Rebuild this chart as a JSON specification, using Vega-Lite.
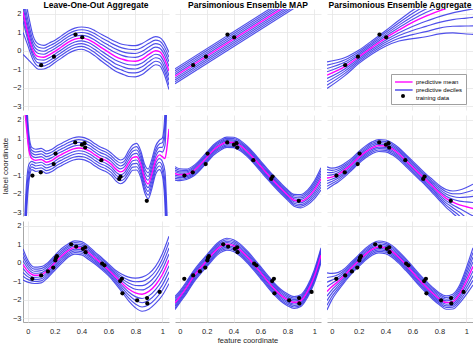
{
"$schema":"https://vega.github.io/schema/vega-lite/v6.json",
"padding":{"left":1,"top":0,"right":0,"bottom":0},
"config":{"font":"Liberation Sans","view":{"stroke":null},
"axis":{"grid":true,"gridColor":"#e6e6e6","gridWidth":0.8,"domainColor":"#909090","domainWidth":0.8,"ticks":false,"tickSize":0,"labelOverlap":false,"labelFontSize":7.5,"labelColor":"#262626","labelPadding":2,"title":null,"minExtent":0}},
"data":{"values":[
{"t":"c","r":1,"c":1,"x":-0.035,"m":2.1,"d1":-0.2,"d2":1,"d3":1.6,"d4":1.9,"d6":2.4,"d7":2.7,"d8":3,"d9":3.3},
{"t":"c","r":1,"c":1,"x":0,"m":0.95,"d1":-0.45,"d2":0.3,"d3":0.6,"d4":0.8,"d6":1.15,"d7":1.4,"d8":1.7,"d9":2.1},
{"t":"c","r":1,"c":1,"x":0.04,"m":0,"d1":-0.75,"d2":-0.5,"d3":-0.3,"d4":-0.15,"d6":0.17,"d7":0.35,"d8":0.55,"d9":0.8},
{"t":"c","r":1,"c":1,"x":0.08,"m":-0.32,"d1":-1,"d2":-0.83,"d3":-0.66,"d4":-0.49,"d6":-0.15,"d7":0.02,"d8":0.19,"d9":0.36},
{"t":"c","r":1,"c":1,"x":0.12,"m":-0.35,"d1":-0.99,"d2":-0.83,"d3":-0.67,"d4":-0.51,"d6":-0.19,"d7":-0.03,"d8":0.13,"d9":0.29},
{"t":"c","r":1,"c":1,"x":0.16,"m":-0.22,"d1":-0.86,"d2":-0.7,"d3":-0.54,"d4":-0.38,"d6":-0.06,"d7":0.1,"d8":0.26,"d9":0.42},
{"t":"c","r":1,"c":1,"x":0.2,"m":-0.05,"d1":-0.65,"d2":-0.5,"d3":-0.35,"d4":-0.2,"d6":0.1,"d7":0.25,"d8":0.4,"d9":0.55},
{"t":"c","r":1,"c":1,"x":0.25,"m":0.2,"d1":-0.4,"d2":-0.25,"d3":-0.1,"d4":0.05,"d6":0.35,"d7":0.5,"d8":0.65,"d9":0.8},
{"t":"c","r":1,"c":1,"x":0.3,"m":0.45,"d1":-0.15,"d2":0,"d3":0.15,"d4":0.3,"d6":0.6,"d7":0.75,"d8":0.9,"d9":1.05},
{"t":"c","r":1,"c":1,"x":0.35,"m":0.62,"d1":0.02,"d2":0.17,"d3":0.32,"d4":0.47,"d6":0.77,"d7":0.92,"d8":1.07,"d9":1.22},
{"t":"c","r":1,"c":1,"x":0.4,"m":0.68,"d1":0.08,"d2":0.23,"d3":0.38,"d4":0.53,"d6":0.83,"d7":0.98,"d8":1.13,"d9":1.28},
{"t":"c","r":1,"c":1,"x":0.45,"m":0.6,"d1":-0.04,"d2":0.12,"d3":0.28,"d4":0.44,"d6":0.76,"d7":0.92,"d8":1.08,"d9":1.24},
{"t":"c","r":1,"c":1,"x":0.5,"m":0.4,"d1":-0.28,"d2":-0.11,"d3":0.06,"d4":0.23,"d6":0.57,"d7":0.74,"d8":0.91,"d9":1.08},
{"t":"c","r":1,"c":1,"x":0.55,"m":0.15,"d1":-0.57,"d2":-0.39,"d3":-0.21,"d4":-0.03,"d6":0.33,"d7":0.51,"d8":0.69,"d9":0.87},
{"t":"c","r":1,"c":1,"x":0.6,"m":-0.08,"d1":-0.84,"d2":-0.65,"d3":-0.46,"d4":-0.27,"d6":0.11,"d7":0.3,"d8":0.49,"d9":0.68},
{"t":"c","r":1,"c":1,"x":0.65,"m":-0.3,"d1":-1.1,"d2":-0.9,"d3":-0.7,"d4":-0.5,"d6":-0.1,"d7":0.1,"d8":0.3,"d9":0.5},
{"t":"c","r":1,"c":1,"x":0.7,"m":-0.45,"d1":-1.25,"d2":-1.05,"d3":-0.85,"d4":-0.65,"d6":-0.25,"d7":-0.05,"d8":0.15,"d9":0.35},
{"t":"c","r":1,"c":1,"x":0.75,"m":-0.55,"d1":-1.39,"d2":-1.18,"d3":-0.97,"d4":-0.76,"d6":-0.34,"d7":-0.13,"d8":0.08,"d9":0.29},
{"t":"c","r":1,"c":1,"x":0.8,"m":-0.57,"d1":-1.41,"d2":-1.2,"d3":-0.99,"d4":-0.78,"d6":-0.36,"d7":-0.15,"d8":0.06,"d9":0.27},
{"t":"c","r":1,"c":1,"x":0.85,"m":-0.45,"d1":-1.29,"d2":-1.08,"d3":-0.87,"d4":-0.66,"d6":-0.24,"d7":-0.03,"d8":0.18,"d9":0.39},
{"t":"c","r":1,"c":1,"x":0.9,"m":-0.2,"d1":-1,"d2":-0.8,"d3":-0.6,"d4":-0.4,"d6":0,"d7":0.2,"d8":0.4,"d9":0.6},
{"t":"c","r":1,"c":1,"x":0.95,"m":0,"d1":-0.76,"d2":-0.57,"d3":-0.38,"d4":-0.19,"d6":0.19,"d7":0.38,"d8":0.57,"d9":0.76},
{"t":"c","r":1,"c":1,"x":0.98,"m":-0.05,"d1":-0.81,"d2":-0.62,"d3":-0.43,"d4":-0.24,"d6":0.14,"d7":0.33,"d8":0.52,"d9":0.71},
{"t":"c","r":1,"c":1,"x":1.01,"m":-0.35,"d1":-1.19,"d2":-0.98,"d3":-0.77,"d4":-0.56,"d6":-0.14,"d7":0.07,"d8":0.28,"d9":0.49},
{"t":"c","r":1,"c":1,"x":1.05,"m":-1.1,"d1":-2.1,"d2":-1.85,"d3":-1.6,"d4":-1.35,"d6":-0.85,"d7":-0.6,"d8":-0.35,"d9":-0.1},

{"t":"c","r":1,"c":2,"x":-0.035,"m":-1.38,"d1":-1.78,"d2":-1.68,"d3":-1.58,"d4":-1.48,"d6":-1.28,"d7":-1.18,"d8":-1.08,"d9":-0.98},
{"t":"c","r":1,"c":2,"x":1.05,"m":3.61,"d1":3.21,"d2":3.31,"d3":3.41,"d4":3.51,"d6":3.71,"d7":3.81,"d8":3.91,"d9":4.01},

{"t":"c","r":1,"c":3,"x":-0.035,"m":-1.32,"d1":-2.04,"d2":-1.86,"d3":-1.68,"d4":-1.5,"d6":-1.14,"d7":-0.96,"d8":-0.78,"d9":-0.6},
{"t":"c","r":1,"c":3,"x":0.1,"m":-0.85,"d1":-1.33,"d2":-1.21,"d3":-1.09,"d4":-0.97,"d6":-0.73,"d7":-0.61,"d8":-0.49,"d9":-0.37},
{"t":"c","r":1,"c":3,"x":0.2,"m":-0.34,"d1":-0.7,"d2":-0.61,"d3":-0.52,"d4":-0.43,"d6":-0.25,"d7":-0.16,"d8":-0.07,"d9":0.02},
{"t":"c","r":1,"c":3,"x":0.3,"m":0.18,"d1":-0.18,"d2":-0.09,"d3":0,"d4":0.09,"d6":0.27,"d7":0.36,"d8":0.45,"d9":0.54},
{"t":"c","r":1,"c":3,"x":0.4,"m":0.68,"d1":0.24,"d2":0.35,"d3":0.46,"d4":0.57,"d6":0.78,"d7":0.88,"d8":0.98,"d9":1.08},
{"t":"c","r":1,"c":3,"x":0.5,"m":1.12,"d1":0.52,"d2":0.67,"d3":0.82,"d4":0.97,"d6":1.25,"d7":1.38,"d8":1.51,"d9":1.64},
{"t":"c","r":1,"c":3,"x":0.6,"m":1.53,"d1":0.65,"d2":0.87,"d3":1.09,"d4":1.31,"d6":1.69,"d7":1.85,"d8":2.01,"d9":2.17},
{"t":"c","r":1,"c":3,"x":0.7,"m":1.87,"d1":0.75,"d2":1.03,"d3":1.31,"d4":1.59,"d6":2.06,"d7":2.25,"d8":2.44,"d9":2.63},
{"t":"c","r":1,"c":3,"x":0.8,"m":2.15,"d1":0.91,"d2":1.22,"d3":1.53,"d4":1.84,"d6":2.37,"d7":2.59,"d8":2.81,"d9":3.03},
{"t":"c","r":1,"c":3,"x":0.9,"m":2.4,"d1":0.96,"d2":1.32,"d3":1.68,"d4":2.04,"d6":2.65,"d7":2.9,"d8":3.15,"d9":3.4},
{"t":"c","r":1,"c":3,"x":1,"m":2.62,"d1":0.9,"d2":1.33,"d3":1.76,"d4":2.19,"d6":2.92,"d7":3.22,"d8":3.52,"d9":3.82},
{"t":"c","r":1,"c":3,"x":1.05,"m":2.72,"d1":0.88,"d2":1.34,"d3":1.8,"d4":2.26,"d6":3.05,"d7":3.38,"d8":3.71,"d9":4.04},

{"t":"c","r":2,"c":1,"x":-0.035,"m":3.5,"d1":-9,"d2":-8,"d3":-7,"d4":-6,"d6":5,"d7":6,"d8":7,"d9":8},
{"t":"c","r":2,"c":1,"x":-0.012,"m":1.8,"d1":-3.6,"d2":-3,"d3":-2.4,"d4":-1.8,"d6":2.3,"d7":2.7,"d8":3.1,"d9":3.5},
{"t":"c","r":2,"c":1,"x":0.01,"m":0.3,"d1":-1.3,"d2":-1,"d3":-0.7,"d4":-0.4,"d6":0.4,"d7":0.6,"d8":0.85,"d9":1.15},
{"t":"c","r":2,"c":1,"x":0.03,"m":-0.1,"d1":-0.7,"d2":-0.55,"d3":-0.4,"d4":-0.25,"d6":0.05,"d7":0.2,"d8":0.35,"d9":0.5},
{"t":"c","r":2,"c":1,"x":0.06,"m":-0.2,"d1":-0.8,"d2":-0.65,"d3":-0.5,"d4":-0.35,"d6":-0.05,"d7":0.1,"d8":0.25,"d9":0.4},
{"t":"c","r":2,"c":1,"x":0.1,"m":-0.15,"d1":-0.75,"d2":-0.6,"d3":-0.45,"d4":-0.3,"d6":0,"d7":0.15,"d8":0.3,"d9":0.45},
{"t":"c","r":2,"c":1,"x":0.14,"m":-0.3,"d1":-0.9,"d2":-0.75,"d3":-0.6,"d4":-0.45,"d6":-0.15,"d7":0,"d8":0.15,"d9":0.3},
{"t":"c","r":2,"c":1,"x":0.18,"m":-0.2,"d1":-0.8,"d2":-0.65,"d3":-0.5,"d4":-0.35,"d6":-0.05,"d7":0.1,"d8":0.25,"d9":0.4},
{"t":"c","r":2,"c":1,"x":0.22,"m":0,"d1":-0.6,"d2":-0.45,"d3":-0.3,"d4":-0.15,"d6":0.15,"d7":0.3,"d8":0.45,"d9":0.6},
{"t":"c","r":2,"c":1,"x":0.26,"m":0.15,"d1":-0.45,"d2":-0.3,"d3":-0.15,"d4":0,"d6":0.3,"d7":0.45,"d8":0.6,"d9":0.75},
{"t":"c","r":2,"c":1,"x":0.3,"m":0.3,"d1":-0.3,"d2":-0.15,"d3":0,"d4":0.15,"d6":0.45,"d7":0.6,"d8":0.75,"d9":0.9},
{"t":"c","r":2,"c":1,"x":0.34,"m":0.42,"d1":-0.18,"d2":-0.03,"d3":0.12,"d4":0.27,"d6":0.57,"d7":0.72,"d8":0.87,"d9":1.02},
{"t":"c","r":2,"c":1,"x":0.38,"m":0.47,"d1":-0.13,"d2":0.02,"d3":0.17,"d4":0.32,"d6":0.62,"d7":0.77,"d8":0.92,"d9":1.07},
{"t":"c","r":2,"c":1,"x":0.42,"m":0.43,"d1":-0.17,"d2":-0.02,"d3":0.13,"d4":0.28,"d6":0.58,"d7":0.73,"d8":0.88,"d9":1.03},
{"t":"c","r":2,"c":1,"x":0.46,"m":0.3,"d1":-0.3,"d2":-0.15,"d3":0,"d4":0.15,"d6":0.45,"d7":0.6,"d8":0.75,"d9":0.9},
{"t":"c","r":2,"c":1,"x":0.5,"m":0.1,"d1":-0.5,"d2":-0.35,"d3":-0.2,"d4":-0.05,"d6":0.25,"d7":0.4,"d8":0.55,"d9":0.7},
{"t":"c","r":2,"c":1,"x":0.54,"m":-0.08,"d1":-0.68,"d2":-0.53,"d3":-0.38,"d4":-0.23,"d6":0.07,"d7":0.22,"d8":0.37,"d9":0.52},
{"t":"c","r":2,"c":1,"x":0.58,"m":-0.2,"d1":-0.8,"d2":-0.65,"d3":-0.5,"d4":-0.35,"d6":-0.05,"d7":0.1,"d8":0.25,"d9":0.4},
{"t":"c","r":2,"c":1,"x":0.62,"m":-0.4,"d1":-1,"d2":-0.85,"d3":-0.7,"d4":-0.55,"d6":-0.25,"d7":-0.1,"d8":0.05,"d9":0.2},
{"t":"c","r":2,"c":1,"x":0.66,"m":-0.7,"d1":-1.34,"d2":-1.18,"d3":-1.02,"d4":-0.86,"d6":-0.54,"d7":-0.38,"d8":-0.22,"d9":-0.06},
{"t":"c","r":2,"c":1,"x":0.69,"m":-0.82,"d1":-1.46,"d2":-1.3,"d3":-1.14,"d4":-0.98,"d6":-0.66,"d7":-0.5,"d8":-0.34,"d9":-0.18},
{"t":"c","r":2,"c":1,"x":0.72,"m":-0.7,"d1":-1.34,"d2":-1.18,"d3":-1.02,"d4":-0.86,"d6":-0.54,"d7":-0.38,"d8":-0.22,"d9":-0.06},
{"t":"c","r":2,"c":1,"x":0.75,"m":-0.35,"d1":-1.03,"d2":-0.86,"d3":-0.69,"d4":-0.52,"d6":-0.18,"d7":-0.01,"d8":0.16,"d9":0.33},
{"t":"c","r":2,"c":1,"x":0.78,"m":-0.05,"d1":-0.73,"d2":-0.56,"d3":-0.39,"d4":-0.22,"d6":0.12,"d7":0.29,"d8":0.46,"d9":0.63},
{"t":"c","r":2,"c":1,"x":0.81,"m":0,"d1":-0.72,"d2":-0.54,"d3":-0.36,"d4":-0.18,"d6":0.18,"d7":0.36,"d8":0.54,"d9":0.72},
{"t":"c","r":2,"c":1,"x":0.84,"m":-0.4,"d1":-1.12,"d2":-0.94,"d3":-0.76,"d4":-0.58,"d6":-0.22,"d7":-0.04,"d8":0.14,"d9":0.32},
{"t":"c","r":2,"c":1,"x":0.87,"m":-1.2,"d1":-1.96,"d2":-1.77,"d3":-1.58,"d4":-1.39,"d6":-1.01,"d7":-0.82,"d8":-0.63,"d9":-0.44},
{"t":"c","r":2,"c":1,"x":0.895,"m":-1.47,"d1":-2.27,"d2":-2.07,"d3":-1.87,"d4":-1.67,"d6":-1.27,"d7":-1.07,"d8":-0.87,"d9":-0.67},
{"t":"c","r":2,"c":1,"x":0.92,"m":-1,"d1":-1.8,"d2":-1.6,"d3":-1.4,"d4":-1.2,"d6":-0.8,"d7":-0.6,"d8":-0.4,"d9":-0.2},
{"t":"c","r":2,"c":1,"x":0.95,"m":-0.2,"d1":-0.96,"d2":-0.77,"d3":-0.58,"d4":-0.39,"d6":-0.01,"d7":0.18,"d8":0.37,"d9":0.56},
{"t":"c","r":2,"c":1,"x":0.98,"m":0.1,"d1":-0.7,"d2":-0.5,"d3":-0.3,"d4":-0.1,"d6":0.3,"d7":0.5,"d8":0.7,"d9":0.9},
{"t":"c","r":2,"c":1,"x":1,"m":0,"d1":-1,"d2":-0.75,"d3":-0.5,"d4":-0.25,"d6":0.25,"d7":0.5,"d8":0.75,"d9":1},
{"t":"c","r":2,"c":1,"x":1.02,"m":-0.1,"d1":-2.6,"d2":-2,"d3":-1.4,"d4":-0.8,"d6":0.6,"d7":1.2,"d8":1.8,"d9":2.4},
{"t":"c","r":2,"c":1,"x":1.035,"m":0.5,"d1":-6,"d2":-5,"d3":-4,"d4":-3,"d6":3,"d7":4,"d8":5,"d9":6},
{"t":"c","r":2,"c":1,"x":1.05,"m":1.5,"d1":-9,"d2":-8,"d3":-7,"d4":-6,"d6":6,"d7":7,"d8":8,"d9":9},

{"t":"c","r":2,"c":2,"x":-0.035,"m":-0.9,"d1":-1.26,"d2":-1.17,"d3":-1.08,"d4":-0.99,"d6":-0.81,"d7":-0.72,"d8":-0.63,"d9":-0.54},
{"t":"c","r":2,"c":2,"x":0,"m":-0.97,"d1":-1.29,"d2":-1.21,"d3":-1.13,"d4":-1.05,"d6":-0.89,"d7":-0.81,"d8":-0.73,"d9":-0.65},
{"t":"c","r":2,"c":2,"x":0.05,"m":-0.95,"d1":-1.23,"d2":-1.16,"d3":-1.09,"d4":-1.02,"d6":-0.88,"d7":-0.81,"d8":-0.74,"d9":-0.67},
{"t":"c","r":2,"c":2,"x":0.1,"m":-0.78,"d1":-1.06,"d2":-0.99,"d3":-0.92,"d4":-0.85,"d6":-0.71,"d7":-0.64,"d8":-0.57,"d9":-0.5},
{"t":"c","r":2,"c":2,"x":0.15,"m":-0.45,"d1":-0.73,"d2":-0.66,"d3":-0.59,"d4":-0.52,"d6":-0.38,"d7":-0.31,"d8":-0.24,"d9":-0.17},
{"t":"c","r":2,"c":2,"x":0.2,"m":-0.05,"d1":-0.33,"d2":-0.26,"d3":-0.19,"d4":-0.12,"d6":0.02,"d7":0.09,"d8":0.16,"d9":0.23},
{"t":"c","r":2,"c":2,"x":0.25,"m":0.35,"d1":0.07,"d2":0.14,"d3":0.21,"d4":0.28,"d6":0.42,"d7":0.49,"d8":0.56,"d9":0.63},
{"t":"c","r":2,"c":2,"x":0.3,"m":0.62,"d1":0.34,"d2":0.41,"d3":0.48,"d4":0.55,"d6":0.69,"d7":0.76,"d8":0.83,"d9":0.9},
{"t":"c","r":2,"c":2,"x":0.35,"m":0.78,"d1":0.5,"d2":0.57,"d3":0.64,"d4":0.71,"d6":0.85,"d7":0.92,"d8":0.99,"d9":1.06},
{"t":"c","r":2,"c":2,"x":0.4,"m":0.77,"d1":0.49,"d2":0.56,"d3":0.63,"d4":0.7,"d6":0.84,"d7":0.91,"d8":0.98,"d9":1.05},
{"t":"c","r":2,"c":2,"x":0.45,"m":0.6,"d1":0.32,"d2":0.39,"d3":0.46,"d4":0.53,"d6":0.67,"d7":0.74,"d8":0.81,"d9":0.88},
{"t":"c","r":2,"c":2,"x":0.5,"m":0.3,"d1":0.02,"d2":0.09,"d3":0.16,"d4":0.23,"d6":0.37,"d7":0.44,"d8":0.51,"d9":0.58},
{"t":"c","r":2,"c":2,"x":0.55,"m":-0.08,"d1":-0.36,"d2":-0.29,"d3":-0.22,"d4":-0.15,"d6":-0.01,"d7":0.06,"d8":0.13,"d9":0.2},
{"t":"c","r":2,"c":2,"x":0.6,"m":-0.5,"d1":-0.78,"d2":-0.71,"d3":-0.64,"d4":-0.57,"d6":-0.43,"d7":-0.36,"d8":-0.29,"d9":-0.22},
{"t":"c","r":2,"c":2,"x":0.65,"m":-0.92,"d1":-1.2,"d2":-1.13,"d3":-1.06,"d4":-0.99,"d6":-0.85,"d7":-0.78,"d8":-0.71,"d9":-0.64},
{"t":"c","r":2,"c":2,"x":0.7,"m":-1.32,"d1":-1.6,"d2":-1.53,"d3":-1.46,"d4":-1.39,"d6":-1.25,"d7":-1.18,"d8":-1.11,"d9":-1.04},
{"t":"c","r":2,"c":2,"x":0.75,"m":-1.7,"d1":-1.98,"d2":-1.91,"d3":-1.84,"d4":-1.77,"d6":-1.63,"d7":-1.56,"d8":-1.49,"d9":-1.42},
{"t":"c","r":2,"c":2,"x":0.8,"m":-2.05,"d1":-2.33,"d2":-2.26,"d3":-2.19,"d4":-2.12,"d6":-1.98,"d7":-1.91,"d8":-1.84,"d9":-1.77},
{"t":"c","r":2,"c":2,"x":0.85,"m":-2.35,"d1":-2.67,"d2":-2.59,"d3":-2.51,"d4":-2.43,"d6":-2.27,"d7":-2.19,"d8":-2.11,"d9":-2.03},
{"t":"c","r":2,"c":2,"x":0.9,"m":-2.4,"d1":-2.76,"d2":-2.67,"d3":-2.58,"d4":-2.49,"d6":-2.31,"d7":-2.22,"d8":-2.13,"d9":-2.04},
{"t":"c","r":2,"c":2,"x":0.95,"m":-2.2,"d1":-2.6,"d2":-2.5,"d3":-2.4,"d4":-2.3,"d6":-2.1,"d7":-2,"d8":-1.9,"d9":-1.8},
{"t":"c","r":2,"c":2,"x":1,"m":-1.8,"d1":-2.28,"d2":-2.16,"d3":-2.04,"d4":-1.92,"d6":-1.68,"d7":-1.56,"d8":-1.44,"d9":-1.32},
{"t":"c","r":2,"c":2,"x":1.05,"m":-1.2,"d1":-1.8,"d2":-1.65,"d3":-1.5,"d4":-1.35,"d6":-1.05,"d7":-0.9,"d8":-0.75,"d9":-0.6},

{"t":"c","r":2,"c":3,"x":-0.035,"m":-1.15,"d1":-1.75,"d2":-1.6,"d3":-1.45,"d4":-1.3,"d6":-1,"d7":-0.85,"d8":-0.7,"d9":-0.55},
{"t":"c","r":2,"c":3,"x":0,"m":-1.1,"d1":-1.58,"d2":-1.46,"d3":-1.34,"d4":-1.22,"d6":-0.98,"d7":-0.86,"d8":-0.74,"d9":-0.62},
{"t":"c","r":2,"c":3,"x":0.05,"m":-0.95,"d1":-1.35,"d2":-1.25,"d3":-1.15,"d4":-1.05,"d6":-0.85,"d7":-0.75,"d8":-0.65,"d9":-0.55},
{"t":"c","r":2,"c":3,"x":0.1,"m":-0.7,"d1":-1.06,"d2":-0.97,"d3":-0.88,"d4":-0.79,"d6":-0.61,"d7":-0.52,"d8":-0.43,"d9":-0.34},
{"t":"c","r":2,"c":3,"x":0.15,"m":-0.4,"d1":-0.72,"d2":-0.64,"d3":-0.56,"d4":-0.48,"d6":-0.32,"d7":-0.24,"d8":-0.16,"d9":-0.08},
{"t":"c","r":2,"c":3,"x":0.2,"m":-0.05,"d1":-0.37,"d2":-0.29,"d3":-0.21,"d4":-0.13,"d6":0.03,"d7":0.11,"d8":0.19,"d9":0.27},
{"t":"c","r":2,"c":3,"x":0.25,"m":0.25,"d1":-0.07,"d2":0.01,"d3":0.09,"d4":0.17,"d6":0.33,"d7":0.41,"d8":0.49,"d9":0.57},
{"t":"c","r":2,"c":3,"x":0.3,"m":0.48,"d1":0.16,"d2":0.24,"d3":0.32,"d4":0.4,"d6":0.56,"d7":0.64,"d8":0.72,"d9":0.8},
{"t":"c","r":2,"c":3,"x":0.35,"m":0.6,"d1":0.28,"d2":0.36,"d3":0.44,"d4":0.52,"d6":0.68,"d7":0.76,"d8":0.84,"d9":0.92},
{"t":"c","r":2,"c":3,"x":0.4,"m":0.58,"d1":0.26,"d2":0.34,"d3":0.42,"d4":0.5,"d6":0.66,"d7":0.74,"d8":0.82,"d9":0.9},
{"t":"c","r":2,"c":3,"x":0.45,"m":0.42,"d1":0.1,"d2":0.18,"d3":0.26,"d4":0.34,"d6":0.5,"d7":0.58,"d8":0.66,"d9":0.74},
{"t":"c","r":2,"c":3,"x":0.5,"m":0.15,"d1":-0.17,"d2":-0.09,"d3":-0.01,"d4":0.07,"d6":0.23,"d7":0.31,"d8":0.39,"d9":0.47},
{"t":"c","r":2,"c":3,"x":0.55,"m":-0.2,"d1":-0.52,"d2":-0.44,"d3":-0.36,"d4":-0.28,"d6":-0.12,"d7":-0.04,"d8":0.04,"d9":0.12},
{"t":"c","r":2,"c":3,"x":0.6,"m":-0.55,"d1":-0.87,"d2":-0.79,"d3":-0.71,"d4":-0.63,"d6":-0.47,"d7":-0.39,"d8":-0.31,"d9":-0.23},
{"t":"c","r":2,"c":3,"x":0.65,"m":-0.9,"d1":-1.22,"d2":-1.14,"d3":-1.06,"d4":-0.98,"d6":-0.82,"d7":-0.74,"d8":-0.66,"d9":-0.58},
{"t":"c","r":2,"c":3,"x":0.7,"m":-1.25,"d1":-1.57,"d2":-1.49,"d3":-1.41,"d4":-1.33,"d6":-1.17,"d7":-1.09,"d8":-1.01,"d9":-0.93},
{"t":"c","r":2,"c":3,"x":0.75,"m":-1.6,"d1":-1.96,"d2":-1.87,"d3":-1.78,"d4":-1.69,"d6":-1.51,"d7":-1.42,"d8":-1.33,"d9":-1.24},
{"t":"c","r":2,"c":3,"x":0.8,"m":-1.95,"d1":-2.35,"d2":-2.25,"d3":-2.15,"d4":-2.05,"d6":-1.85,"d7":-1.75,"d8":-1.65,"d9":-1.55},
{"t":"c","r":2,"c":3,"x":0.85,"m":-2.25,"d1":-2.73,"d2":-2.61,"d3":-2.49,"d4":-2.37,"d6":-2.13,"d7":-2.01,"d8":-1.89,"d9":-1.77},
{"t":"c","r":2,"c":3,"x":0.9,"m":-2.45,"d1":-3.05,"d2":-2.9,"d3":-2.75,"d4":-2.6,"d6":-2.3,"d7":-2.15,"d8":-2,"d9":-1.85},
{"t":"c","r":2,"c":3,"x":0.95,"m":-2.6,"d1":-3.4,"d2":-3.2,"d3":-3,"d4":-2.8,"d6":-2.4,"d7":-2.2,"d8":-2,"d9":-1.8},
{"t":"c","r":2,"c":3,"x":1,"m":-2.7,"d1":-3.9,"d2":-3.6,"d3":-3.3,"d4":-3,"d6":-2.44,"d7":-2.18,"d8":-1.92,"d9":-1.66},
{"t":"c","r":2,"c":3,"x":1.05,"m":-2.8,"d1":-4.4,"d2":-4,"d3":-3.6,"d4":-3.2,"d6":-2.47,"d7":-2.14,"d8":-1.81,"d9":-1.48},

{"t":"c","r":3,"c":1,"x":-0.035,"m":-0.1,"d1":-0.94,"d2":-0.73,"d3":-0.52,"d4":-0.31,"d6":0.11,"d7":0.32,"d8":0.53,"d9":0.74},
{"t":"c","r":3,"c":1,"x":0,"m":-0.45,"d1":-1.05,"d2":-0.9,"d3":-0.75,"d4":-0.6,"d6":-0.3,"d7":-0.15,"d8":0,"d9":0.15},
{"t":"c","r":3,"c":1,"x":0.05,"m":-0.68,"d1":-1.12,"d2":-1.01,"d3":-0.9,"d4":-0.79,"d6":-0.57,"d7":-0.46,"d8":-0.35,"d9":-0.24},
{"t":"c","r":3,"c":1,"x":0.1,"m":-0.65,"d1":-1.09,"d2":-0.98,"d3":-0.87,"d4":-0.76,"d6":-0.54,"d7":-0.43,"d8":-0.32,"d9":-0.21},
{"t":"c","r":3,"c":1,"x":0.15,"m":-0.4,"d1":-0.8,"d2":-0.7,"d3":-0.6,"d4":-0.5,"d6":-0.3,"d7":-0.2,"d8":-0.1,"d9":0},
{"t":"c","r":3,"c":1,"x":0.2,"m":-0.02,"d1":-0.42,"d2":-0.32,"d3":-0.22,"d4":-0.12,"d6":0.08,"d7":0.18,"d8":0.28,"d9":0.38},
{"t":"c","r":3,"c":1,"x":0.25,"m":0.35,"d1":-0.05,"d2":0.05,"d3":0.15,"d4":0.25,"d6":0.45,"d7":0.55,"d8":0.65,"d9":0.75},
{"t":"c","r":3,"c":1,"x":0.3,"m":0.65,"d1":0.29,"d2":0.38,"d3":0.47,"d4":0.56,"d6":0.74,"d7":0.83,"d8":0.92,"d9":1.01},
{"t":"c","r":3,"c":1,"x":0.35,"m":0.82,"d1":0.46,"d2":0.55,"d3":0.64,"d4":0.73,"d6":0.91,"d7":1,"d8":1.09,"d9":1.18},
{"t":"c","r":3,"c":1,"x":0.4,"m":0.78,"d1":0.42,"d2":0.51,"d3":0.6,"d4":0.69,"d6":0.87,"d7":0.96,"d8":1.05,"d9":1.14},
{"t":"c","r":3,"c":1,"x":0.45,"m":0.55,"d1":0.19,"d2":0.28,"d3":0.37,"d4":0.46,"d6":0.64,"d7":0.73,"d8":0.82,"d9":0.91},
{"t":"c","r":3,"c":1,"x":0.5,"m":0.25,"d1":-0.07,"d2":0.01,"d3":0.09,"d4":0.17,"d6":0.33,"d7":0.41,"d8":0.49,"d9":0.57},
{"t":"c","r":3,"c":1,"x":0.55,"m":-0.05,"d1":-0.37,"d2":-0.29,"d3":-0.21,"d4":-0.13,"d6":0.03,"d7":0.11,"d8":0.19,"d9":0.27},
{"t":"c","r":3,"c":1,"x":0.6,"m":-0.38,"d1":-0.7,"d2":-0.62,"d3":-0.54,"d4":-0.46,"d6":-0.3,"d7":-0.22,"d8":-0.14,"d9":-0.06},
{"t":"c","r":3,"c":1,"x":0.65,"m":-0.75,"d1":-1.11,"d2":-1.02,"d3":-0.93,"d4":-0.84,"d6":-0.66,"d7":-0.57,"d8":-0.48,"d9":-0.39},
{"t":"c","r":3,"c":1,"x":0.7,"m":-1.1,"d1":-1.58,"d2":-1.46,"d3":-1.34,"d4":-1.22,"d6":-0.98,"d7":-0.86,"d8":-0.74,"d9":-0.62},
{"t":"c","r":3,"c":1,"x":0.75,"m":-1.42,"d1":-2.06,"d2":-1.9,"d3":-1.74,"d4":-1.58,"d6":-1.26,"d7":-1.1,"d8":-0.94,"d9":-0.78},
{"t":"c","r":3,"c":1,"x":0.8,"m":-1.63,"d1":-2.43,"d2":-2.23,"d3":-2.03,"d4":-1.83,"d6":-1.43,"d7":-1.23,"d8":-1.03,"d9":-0.83},
{"t":"c","r":3,"c":1,"x":0.85,"m":-1.7,"d1":-2.62,"d2":-2.39,"d3":-2.16,"d4":-1.93,"d6":-1.47,"d7":-1.24,"d8":-1.01,"d9":-0.78},
{"t":"c","r":3,"c":1,"x":0.9,"m":-1.55,"d1":-2.51,"d2":-2.27,"d3":-2.03,"d4":-1.79,"d6":-1.31,"d7":-1.07,"d8":-0.83,"d9":-0.59},
{"t":"c","r":3,"c":1,"x":0.95,"m":-1.2,"d1":-2.2,"d2":-1.95,"d3":-1.7,"d4":-1.45,"d6":-0.95,"d7":-0.7,"d8":-0.45,"d9":-0.2},
{"t":"c","r":3,"c":1,"x":1,"m":-0.65,"d1":-1.77,"d2":-1.49,"d3":-1.21,"d4":-0.93,"d6":-0.37,"d7":-0.09,"d8":0.19,"d9":0.47},
{"t":"c","r":3,"c":1,"x":1.05,"m":0.15,"d1":-1.13,"d2":-0.81,"d3":-0.49,"d4":-0.17,"d6":0.47,"d7":0.79,"d8":1.11,"d9":1.43},

{"t":"c","r":3,"c":2,"x":-0.035,"m":-2.17,"d1":-2.53,"d2":-2.44,"d3":-2.35,"d4":-2.26,"d6":-2.08,"d7":-1.99,"d8":-1.9,"d9":-1.81},
{"t":"c","r":3,"c":2,"x":0,"m":-1.85,"d1":-2.17,"d2":-2.09,"d3":-2.01,"d4":-1.93,"d6":-1.77,"d7":-1.69,"d8":-1.61,"d9":-1.53},
{"t":"c","r":3,"c":2,"x":0.05,"m":-1.35,"d1":-1.67,"d2":-1.59,"d3":-1.51,"d4":-1.43,"d6":-1.27,"d7":-1.19,"d8":-1.11,"d9":-1.03},
{"t":"c","r":3,"c":2,"x":0.1,"m":-0.78,"d1":-1.1,"d2":-1.02,"d3":-0.94,"d4":-0.86,"d6":-0.7,"d7":-0.62,"d8":-0.54,"d9":-0.46},
{"t":"c","r":3,"c":2,"x":0.15,"m":-0.32,"d1":-0.64,"d2":-0.56,"d3":-0.48,"d4":-0.4,"d6":-0.24,"d7":-0.16,"d8":-0.08,"d9":0},
{"t":"c","r":3,"c":2,"x":0.2,"m":0.09,"d1":-0.23,"d2":-0.15,"d3":-0.07,"d4":0.01,"d6":0.17,"d7":0.25,"d8":0.33,"d9":0.41},
{"t":"c","r":3,"c":2,"x":0.25,"m":0.52,"d1":0.2,"d2":0.28,"d3":0.36,"d4":0.44,"d6":0.6,"d7":0.68,"d8":0.76,"d9":0.84},
{"t":"c","r":3,"c":2,"x":0.3,"m":0.85,"d1":0.53,"d2":0.61,"d3":0.69,"d4":0.77,"d6":0.93,"d7":1.01,"d8":1.09,"d9":1.17},
{"t":"c","r":3,"c":2,"x":0.35,"m":1,"d1":0.68,"d2":0.76,"d3":0.84,"d4":0.92,"d6":1.08,"d7":1.16,"d8":1.24,"d9":1.32},
{"t":"c","r":3,"c":2,"x":0.4,"m":0.92,"d1":0.6,"d2":0.68,"d3":0.76,"d4":0.84,"d6":1,"d7":1.08,"d8":1.16,"d9":1.24},
{"t":"c","r":3,"c":2,"x":0.45,"m":0.68,"d1":0.36,"d2":0.44,"d3":0.52,"d4":0.6,"d6":0.76,"d7":0.84,"d8":0.92,"d9":1},
{"t":"c","r":3,"c":2,"x":0.5,"m":0.33,"d1":0.01,"d2":0.09,"d3":0.17,"d4":0.25,"d6":0.41,"d7":0.49,"d8":0.57,"d9":0.65},
{"t":"c","r":3,"c":2,"x":0.55,"m":-0.08,"d1":-0.4,"d2":-0.32,"d3":-0.24,"d4":-0.16,"d6":0,"d7":0.08,"d8":0.16,"d9":0.24},
{"t":"c","r":3,"c":2,"x":0.6,"m":-0.52,"d1":-0.84,"d2":-0.76,"d3":-0.68,"d4":-0.6,"d6":-0.44,"d7":-0.36,"d8":-0.28,"d9":-0.2},
{"t":"c","r":3,"c":2,"x":0.65,"m":-0.97,"d1":-1.29,"d2":-1.21,"d3":-1.13,"d4":-1.05,"d6":-0.89,"d7":-0.81,"d8":-0.73,"d9":-0.65},
{"t":"c","r":3,"c":2,"x":0.7,"m":-1.39,"d1":-1.71,"d2":-1.63,"d3":-1.55,"d4":-1.47,"d6":-1.31,"d7":-1.23,"d8":-1.15,"d9":-1.07},
{"t":"c","r":3,"c":2,"x":0.75,"m":-1.75,"d1":-2.07,"d2":-1.99,"d3":-1.91,"d4":-1.83,"d6":-1.67,"d7":-1.59,"d8":-1.51,"d9":-1.43},
{"t":"c","r":3,"c":2,"x":0.8,"m":-2,"d1":-2.32,"d2":-2.24,"d3":-2.16,"d4":-2.08,"d6":-1.92,"d7":-1.84,"d8":-1.76,"d9":-1.68},
{"t":"c","r":3,"c":2,"x":0.85,"m":-2.15,"d1":-2.47,"d2":-2.39,"d3":-2.31,"d4":-2.23,"d6":-2.07,"d7":-1.99,"d8":-1.91,"d9":-1.83},
{"t":"c","r":3,"c":2,"x":0.9,"m":-2.05,"d1":-2.37,"d2":-2.29,"d3":-2.21,"d4":-2.13,"d6":-1.97,"d7":-1.89,"d8":-1.81,"d9":-1.73},
{"t":"c","r":3,"c":2,"x":0.95,"m":-1.55,"d1":-1.87,"d2":-1.79,"d3":-1.71,"d4":-1.63,"d6":-1.47,"d7":-1.39,"d8":-1.31,"d9":-1.23},
{"t":"c","r":3,"c":2,"x":1,"m":-0.75,"d1":-1.11,"d2":-1.02,"d3":-0.93,"d4":-0.84,"d6":-0.66,"d7":-0.57,"d8":-0.48,"d9":-0.39},
{"t":"c","r":3,"c":2,"x":1.05,"m":0.4,"d1":0,"d2":0.1,"d3":0.2,"d4":0.3,"d6":0.5,"d7":0.6,"d8":0.7,"d9":0.8},

{"t":"c","r":3,"c":3,"x":-0.035,"m":-1.55,"d1":-2.55,"d2":-2.3,"d3":-2.05,"d4":-1.8,"d6":-1.3,"d7":-1.05,"d8":-0.8,"d9":-0.55},
{"t":"c","r":3,"c":3,"x":0,"m":-1.3,"d1":-2.02,"d2":-1.84,"d3":-1.66,"d4":-1.48,"d6":-1.12,"d7":-0.94,"d8":-0.76,"d9":-0.58},
{"t":"c","r":3,"c":3,"x":0.05,"m":-1,"d1":-1.48,"d2":-1.36,"d3":-1.24,"d4":-1.12,"d6":-0.88,"d7":-0.76,"d8":-0.64,"d9":-0.52},
{"t":"c","r":3,"c":3,"x":0.1,"m":-0.65,"d1":-1.01,"d2":-0.92,"d3":-0.83,"d4":-0.74,"d6":-0.56,"d7":-0.47,"d8":-0.38,"d9":-0.29},
{"t":"c","r":3,"c":3,"x":0.15,"m":-0.25,"d1":-0.57,"d2":-0.49,"d3":-0.41,"d4":-0.33,"d6":-0.17,"d7":-0.09,"d8":-0.01,"d9":0.07},
{"t":"c","r":3,"c":3,"x":0.2,"m":0.1,"d1":-0.22,"d2":-0.14,"d3":-0.06,"d4":0.02,"d6":0.18,"d7":0.26,"d8":0.34,"d9":0.42},
{"t":"c","r":3,"c":3,"x":0.25,"m":0.45,"d1":0.13,"d2":0.21,"d3":0.29,"d4":0.37,"d6":0.53,"d7":0.61,"d8":0.69,"d9":0.77},
{"t":"c","r":3,"c":3,"x":0.3,"m":0.72,"d1":0.4,"d2":0.48,"d3":0.56,"d4":0.64,"d6":0.8,"d7":0.88,"d8":0.96,"d9":1.04},
{"t":"c","r":3,"c":3,"x":0.35,"m":0.85,"d1":0.53,"d2":0.61,"d3":0.69,"d4":0.77,"d6":0.93,"d7":1.01,"d8":1.09,"d9":1.17},
{"t":"c","r":3,"c":3,"x":0.4,"m":0.8,"d1":0.48,"d2":0.56,"d3":0.64,"d4":0.72,"d6":0.88,"d7":0.96,"d8":1.04,"d9":1.12},
{"t":"c","r":3,"c":3,"x":0.45,"m":0.6,"d1":0.28,"d2":0.36,"d3":0.44,"d4":0.52,"d6":0.68,"d7":0.76,"d8":0.84,"d9":0.92},
{"t":"c","r":3,"c":3,"x":0.5,"m":0.28,"d1":-0.04,"d2":0.04,"d3":0.12,"d4":0.2,"d6":0.36,"d7":0.44,"d8":0.52,"d9":0.6},
{"t":"c","r":3,"c":3,"x":0.55,"m":-0.1,"d1":-0.42,"d2":-0.34,"d3":-0.26,"d4":-0.18,"d6":-0.02,"d7":0.06,"d8":0.14,"d9":0.22},
{"t":"c","r":3,"c":3,"x":0.6,"m":-0.5,"d1":-0.82,"d2":-0.74,"d3":-0.66,"d4":-0.58,"d6":-0.42,"d7":-0.34,"d8":-0.26,"d9":-0.18},
{"t":"c","r":3,"c":3,"x":0.65,"m":-0.92,"d1":-1.24,"d2":-1.16,"d3":-1.08,"d4":-1,"d6":-0.84,"d7":-0.76,"d8":-0.68,"d9":-0.6},
{"t":"c","r":3,"c":3,"x":0.7,"m":-1.3,"d1":-1.62,"d2":-1.54,"d3":-1.46,"d4":-1.38,"d6":-1.22,"d7":-1.14,"d8":-1.06,"d9":-0.98},
{"t":"c","r":3,"c":3,"x":0.75,"m":-1.65,"d1":-1.97,"d2":-1.89,"d3":-1.81,"d4":-1.73,"d6":-1.57,"d7":-1.49,"d8":-1.41,"d9":-1.33},
{"t":"c","r":3,"c":3,"x":0.8,"m":-1.95,"d1":-2.27,"d2":-2.19,"d3":-2.11,"d4":-2.03,"d6":-1.87,"d7":-1.79,"d8":-1.71,"d9":-1.63},
{"t":"c","r":3,"c":3,"x":0.85,"m":-2.15,"d1":-2.51,"d2":-2.42,"d3":-2.33,"d4":-2.24,"d6":-2.06,"d7":-1.97,"d8":-1.88,"d9":-1.79},
{"t":"c","r":3,"c":3,"x":0.9,"m":-2.1,"d1":-2.5,"d2":-2.4,"d3":-2.3,"d4":-2.2,"d6":-2,"d7":-1.9,"d8":-1.8,"d9":-1.7},
{"t":"c","r":3,"c":3,"x":0.95,"m":-1.7,"d1":-2.18,"d2":-2.06,"d3":-1.94,"d4":-1.82,"d6":-1.58,"d7":-1.46,"d8":-1.34,"d9":-1.22},
{"t":"c","r":3,"c":3,"x":1,"m":-1,"d1":-1.72,"d2":-1.54,"d3":-1.36,"d4":-1.18,"d6":-0.82,"d7":-0.64,"d8":-0.46,"d9":-0.28},
{"t":"c","r":3,"c":3,"x":1.05,"m":-0.2,"d1":-1.2,"d2":-0.95,"d3":-0.7,"d4":-0.45,"d6":0.05,"d7":0.3,"d8":0.55,"d9":0.8},

{"t":"p","r":1,"c":1,"x":0.1,"y":-0.78},{"t":"p","r":1,"c":1,"x":0.195,"y":-0.32},{"t":"p","r":1,"c":1,"x":0.355,"y":0.87},{"t":"p","r":1,"c":1,"x":0.405,"y":0.72},
{"t":"p","r":1,"c":2,"x":0.1,"y":-0.78},{"t":"p","r":1,"c":2,"x":0.195,"y":-0.32},{"t":"p","r":1,"c":2,"x":0.355,"y":0.87},{"t":"p","r":1,"c":2,"x":0.405,"y":0.72},
{"t":"p","r":1,"c":3,"x":0.1,"y":-0.78},{"t":"p","r":1,"c":3,"x":0.195,"y":-0.32},{"t":"p","r":1,"c":3,"x":0.355,"y":0.87},{"t":"p","r":1,"c":3,"x":0.405,"y":0.72},

{"t":"p","r":2,"c":1,"x":0.035,"y":-1.02},{"t":"p","r":2,"c":1,"x":0.097,"y":-0.84},{"t":"p","r":2,"c":1,"x":0.207,"y":0.17},{"t":"p","r":2,"c":1,"x":0.193,"y":-0.4},{"t":"p","r":2,"c":1,"x":0.353,"y":0.77},{"t":"p","r":2,"c":1,"x":0.403,"y":0.65},{"t":"p","r":2,"c":1,"x":0.422,"y":0.73},{"t":"p","r":2,"c":1,"x":0.427,"y":0.49},{"t":"p","r":2,"c":1,"x":0.547,"y":-0.19},{"t":"p","r":2,"c":1,"x":0.68,"y":-1.2},{"t":"p","r":2,"c":1,"x":0.69,"y":-1.07},{"t":"p","r":2,"c":1,"x":0.885,"y":-2.38},
{"t":"p","r":2,"c":2,"x":0.035,"y":-1.02},{"t":"p","r":2,"c":2,"x":0.097,"y":-0.84},{"t":"p","r":2,"c":2,"x":0.207,"y":0.17},{"t":"p","r":2,"c":2,"x":0.193,"y":-0.4},{"t":"p","r":2,"c":2,"x":0.353,"y":0.77},{"t":"p","r":2,"c":2,"x":0.403,"y":0.65},{"t":"p","r":2,"c":2,"x":0.422,"y":0.73},{"t":"p","r":2,"c":2,"x":0.427,"y":0.49},{"t":"p","r":2,"c":2,"x":0.547,"y":-0.19},{"t":"p","r":2,"c":2,"x":0.68,"y":-1.2},{"t":"p","r":2,"c":2,"x":0.69,"y":-1.07},{"t":"p","r":2,"c":2,"x":0.885,"y":-2.38},
{"t":"p","r":2,"c":3,"x":0.035,"y":-1.02},{"t":"p","r":2,"c":3,"x":0.097,"y":-0.84},{"t":"p","r":2,"c":3,"x":0.207,"y":0.17},{"t":"p","r":2,"c":3,"x":0.193,"y":-0.4},{"t":"p","r":2,"c":3,"x":0.353,"y":0.77},{"t":"p","r":2,"c":3,"x":0.403,"y":0.65},{"t":"p","r":2,"c":3,"x":0.422,"y":0.73},{"t":"p","r":2,"c":3,"x":0.427,"y":0.49},{"t":"p","r":2,"c":3,"x":0.547,"y":-0.19},{"t":"p","r":2,"c":3,"x":0.68,"y":-1.2},{"t":"p","r":2,"c":3,"x":0.69,"y":-1.07},{"t":"p","r":2,"c":3,"x":0.885,"y":-2.38},

{"t":"p","r":3,"c":1,"x":0.034,"y":-0.87},{"t":"p","r":3,"c":1,"x":0.1,"y":-0.69},{"t":"p","r":3,"c":1,"x":0.15,"y":-0.47},{"t":"p","r":3,"c":1,"x":0.19,"y":-0.26},{"t":"p","r":3,"c":1,"x":0.205,"y":0.12},{"t":"p","r":3,"c":1,"x":0.21,"y":0.26},{"t":"p","r":3,"c":1,"x":0.217,"y":0.35},{"t":"p","r":3,"c":1,"x":0.323,"y":0.99},{"t":"p","r":3,"c":1,"x":0.36,"y":0.87},{"t":"p","r":3,"c":1,"x":0.41,"y":0.75},{"t":"p","r":3,"c":1,"x":0.427,"y":0.83},{"t":"p","r":3,"c":1,"x":0.43,"y":0.57},{"t":"p","r":3,"c":1,"x":0.553,"y":-0.05},{"t":"p","r":3,"c":1,"x":0.57,"y":-0.14},{"t":"p","r":3,"c":1,"x":0.687,"y":-0.99},{"t":"p","r":3,"c":1,"x":0.7,"y":-0.87},{"t":"p","r":3,"c":1,"x":0.704,"y":-1.65},{"t":"p","r":3,"c":1,"x":0.813,"y":-2.03},{"t":"p","r":3,"c":1,"x":0.887,"y":-1.91},{"t":"p","r":3,"c":1,"x":0.889,"y":-2.2},{"t":"p","r":3,"c":1,"x":0.98,"y":-1.58},
{"t":"p","r":3,"c":2,"x":0.034,"y":-0.87},{"t":"p","r":3,"c":2,"x":0.1,"y":-0.69},{"t":"p","r":3,"c":2,"x":0.15,"y":-0.47},{"t":"p","r":3,"c":2,"x":0.19,"y":-0.26},{"t":"p","r":3,"c":2,"x":0.205,"y":0.12},{"t":"p","r":3,"c":2,"x":0.21,"y":0.26},{"t":"p","r":3,"c":2,"x":0.217,"y":0.35},{"t":"p","r":3,"c":2,"x":0.323,"y":0.99},{"t":"p","r":3,"c":2,"x":0.36,"y":0.87},{"t":"p","r":3,"c":2,"x":0.41,"y":0.75},{"t":"p","r":3,"c":2,"x":0.427,"y":0.83},{"t":"p","r":3,"c":2,"x":0.43,"y":0.57},{"t":"p","r":3,"c":2,"x":0.553,"y":-0.05},{"t":"p","r":3,"c":2,"x":0.57,"y":-0.14},{"t":"p","r":3,"c":2,"x":0.687,"y":-0.99},{"t":"p","r":3,"c":2,"x":0.7,"y":-0.87},{"t":"p","r":3,"c":2,"x":0.704,"y":-1.65},{"t":"p","r":3,"c":2,"x":0.813,"y":-2.03},{"t":"p","r":3,"c":2,"x":0.887,"y":-1.91},{"t":"p","r":3,"c":2,"x":0.889,"y":-2.2},{"t":"p","r":3,"c":2,"x":0.98,"y":-1.58},
{"t":"p","r":3,"c":3,"x":0.034,"y":-0.87},{"t":"p","r":3,"c":3,"x":0.1,"y":-0.69},{"t":"p","r":3,"c":3,"x":0.15,"y":-0.47},{"t":"p","r":3,"c":3,"x":0.19,"y":-0.26},{"t":"p","r":3,"c":3,"x":0.205,"y":0.12},{"t":"p","r":3,"c":3,"x":0.21,"y":0.26},{"t":"p","r":3,"c":3,"x":0.217,"y":0.35},{"t":"p","r":3,"c":3,"x":0.323,"y":0.99},{"t":"p","r":3,"c":3,"x":0.36,"y":0.87},{"t":"p","r":3,"c":3,"x":0.41,"y":0.75},{"t":"p","r":3,"c":3,"x":0.427,"y":0.83},{"t":"p","r":3,"c":3,"x":0.43,"y":0.57},{"t":"p","r":3,"c":3,"x":0.553,"y":-0.05},{"t":"p","r":3,"c":3,"x":0.57,"y":-0.14},{"t":"p","r":3,"c":3,"x":0.687,"y":-0.99},{"t":"p","r":3,"c":3,"x":0.7,"y":-0.87},{"t":"p","r":3,"c":3,"x":0.704,"y":-1.65},{"t":"p","r":3,"c":3,"x":0.813,"y":-2.03},{"t":"p","r":3,"c":3,"x":0.887,"y":-1.91},{"t":"p","r":3,"c":3,"x":0.889,"y":-2.2},{"t":"p","r":3,"c":3,"x":0.98,"y":-1.58}
]},
"spacing":{"row":5,"column":6},
"facet":{
"row":{"field":"r","type":"ordinal","header":{"labels":false,"labelPadding":0,"title":"label coordinate","titleOrient":"left","titleFontSize":8,"titleFontWeight":"normal","titleColor":"#262626","titlePadding":-8}},
"column":{"field":"c","type":"ordinal","header":{"labelExpr":"['Leave-One-Out Aggregate','Parsimonious Ensemble MAP','Parsimonious Ensemble Aggregate'][datum.value-1]","labelOrient":"top","labelFontWeight":"bold","labelFontSize":8.5,"labelColor":"#000000","labelPadding":0,"title":"feature coordinate","titleOrient":"bottom","titleFontSize":7.5,"titleFontWeight":"normal","titleColor":"#262626","titlePadding":-8}}
},
"spec":{"width":146,"height":101,
"layer":[
{"transform":[{"filter":"datum.t==='c'"},{"fold":["d1","d2","d3","d4","d6","d7","d8","d9"],"as":["k","v"]}],
"mark":{"type":"line","interpolate":"monotone","strokeWidth":1.15,"clip":true,"opacity":0.9},
"encoding":{
"x":{"field":"x","type":"quantitative","scale":{"domain":[-0.035,1.05],"nice":false,"zero":false},"axis":{"values":[0,0.2,0.4,0.6,0.8,1],"format":"~g","labelOverlap":false,"minExtent":0,"labelPadding":5}},
"y":{"field":"v","type":"quantitative","scale":{"domain":[-3.2,2.25],"nice":false,"zero":false},"axis":{"values":[-3,-2,-1,0,1,2],"labelOverlap":false,"minExtent":0}},
"detail":{"field":"k"},
"stroke":{"datum":"predictive deciles","type":"nominal","scale":{"domain":["predictive mean","predictive deciles","training data"],"range":["#ff00ff","#3c3ce8","transparent"]},
"legend":{"orient":"none","legendX":368,"legendY":65,"title":null,"fillColor":"#ffffff","strokeColor":"#a0a0a0","padding":3,"rowPadding":0,"labelFontSize":6,"labelColor":"#000000","labelOffset":12,"symbolType":"M-1,0H3.4","symbolSize":64,"symbolStrokeWidth":1.5}}}},
{"transform":[{"filter":"datum.t==='c'"}],
"mark":{"type":"line","interpolate":"monotone","strokeWidth":1.4,"clip":true},
"encoding":{
"x":{"field":"x","type":"quantitative","scale":{"domain":[-0.035,1.05],"nice":false,"zero":false},"axis":{"values":[0,0.2,0.4,0.6,0.8,1],"format":"~g","labelOverlap":false,"minExtent":0,"labelPadding":5}},
"y":{"field":"m","type":"quantitative","scale":{"domain":[-3.2,2.25],"nice":false,"zero":false},"axis":{"values":[-3,-2,-1,0,1,2],"labelOverlap":false,"minExtent":0}},
"stroke":{"datum":"predictive mean","type":"nominal"}}},
{"transform":[{"filter":"datum.t==='p'"}],
"mark":{"type":"circle","size":18,"opacity":1,"clip":true},
"encoding":{
"x":{"field":"x","type":"quantitative","scale":{"domain":[-0.035,1.05],"nice":false,"zero":false},"axis":{"values":[0,0.2,0.4,0.6,0.8,1],"format":"~g","labelOverlap":false,"minExtent":0,"labelPadding":5}},
"y":{"field":"y","type":"quantitative","scale":{"domain":[-3.2,2.25],"nice":false,"zero":false},"axis":{"values":[-3,-2,-1,0,1,2],"labelOverlap":false,"minExtent":0}},
"fill":{"datum":"training data","type":"nominal","scale":{"domain":["training data"],"range":["#000000"]},
"legend":{"orient":"none","legendX":378,"legendY":85,"title":null,"padding":0,"labelExpr":"''","labelFontSize":1,"labelOffset":0,"symbolType":"circle","symbolSize":16,"symbolStrokeWidth":0}}}}
]}
}
